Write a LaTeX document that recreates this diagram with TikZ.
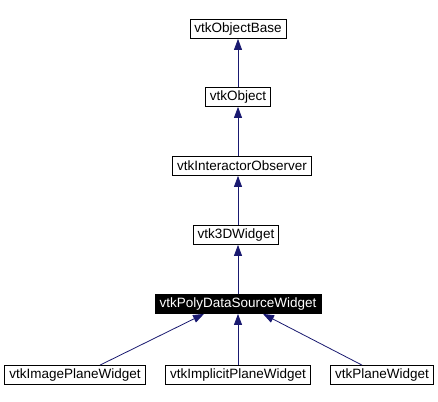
\documentclass[tikz,border=0pt]{standalone}
\usepackage{fontspec}
\setmainfont{Liberation Sans}
\usetikzlibrary{arrows.meta}
\definecolor{edgeblue}{HTML}{191970}
\begin{document}
\begin{tikzpicture}[x=1pt,y=1pt,
  cls/.style={draw=black, line width=0.8pt, fill=white, inner xsep=4.5pt, inner ysep=0pt,
    minimum height=19pt, font=\fontsize{13.5}{15}\selectfont, text=black},
  cur/.style={cls, fill=black, text=white},
  inh/.style={draw=edgeblue, line width=0.8pt, -{Triangle[length=11pt,width=8pt]}}]
\useasboundingbox (0,0) rectangle (438,401);
\fill[white] (0,0) rectangle (438,401);
\node[cls] (base) at (238,372) {vtkObjectBase};
\node[cls] (obj) at (238,304) {vtkObject};
\node[cls] (io) at (242,235) {vtkInteractorObserver};
\node[cls] (w3d) at (236,166) {vtk3DWidget};
\node[cur] (pd) at (238,97) {vtkPolyDataSourceWidget};
\node[cls] (img) at (75,26) {vtkImagePlaneWidget};
\node[cls] (imp) at (238,26) {vtkImplicitPlaneWidget};
\node[cls] (pl) at (382,26) {vtkPlaneWidget};
\draw[inh] (obj.north -| base) -- (base.south);
\draw[inh] (io.north -| base) -- (obj.south);
\draw[inh] (w3d.north -| base) -- (io.south -| base);
\draw[inh] (pd.north -| base) -- (w3d.south -| base);
\draw[inh] ([xshift=25pt]img.north) -- ([xshift=-34pt]pd.south);
\draw[inh] (imp.north) -- (pd.south -| imp);
\draw[inh] ([xshift=-20pt]pl.north) -- ([xshift=25pt]pd.south);
\end{tikzpicture}
\end{document}
